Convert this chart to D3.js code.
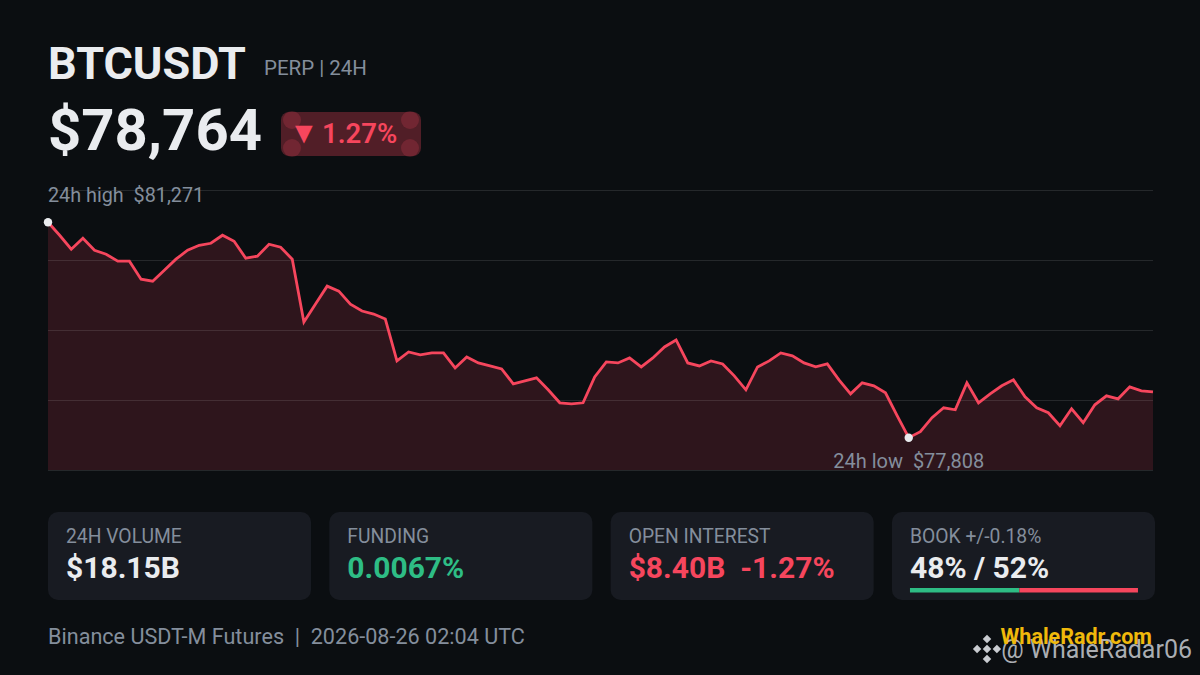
<!DOCTYPE html>
<html>
<head>
<meta charset="utf-8">
<script src="https://cdn.jsdelivr.net/npm/d3@7"></script>
<style>
  html, body { margin: 0; padding: 0; background: #0b0e11; }
  svg { display: block; font-family: Roboto, "Noto Sans", sans-serif; }
</style>
</head>
<body>
<div id="chart"></div>
<script>
// 15-minute closes over the last 24h
const prices = [
  81271, 81063, 80838, 81014, 80822, 80758, 80646, 80646, 80357, 80325,
  80501, 80678, 80822, 80902, 80934, 81063, 80966, 80694, 80726, 80918,
  80870, 80678, 79668, 79956, 80245, 80165, 79956, 79844, 79796, 79716,
  79043, 79187, 79139, 79171, 79171, 78930, 79107, 79010, 78962, 78914,
  78674, 78722, 78770, 78578, 78369, 78353, 78369, 78786, 79027, 79010,
  79091, 78946, 79091, 79267, 79379, 79010, 78962, 79043, 78994, 78802,
  78578, 78946, 79043, 79171, 79123, 79010, 78946, 78994, 78738, 78513,
  78690, 78642, 78530, 78161, 77808, 77904, 78129, 78289, 78257, 78690,
  78369, 78513, 78642, 78738, 78465, 78289, 78209, 78001, 78273, 78049,
  78337, 78482, 78433, 78626, 78562, 78546
];

const symbol = "BTCUSDT";
const subtitle = "PERP | 24H";
const lastPrice = "$78,764";
const changeArrow = "\u25BC";
const changeText = "1.27%";
const highLabel = "24h high  $81,271";
const lowLabel = "24h low  $77,808";

const cardLabels = ["24H VOLUME", "FUNDING", "OPEN INTEREST", "BOOK +/-0.18%"];
const cardValues = ["$18.15B", "0.0067%", "$8.40B  -1.27%", "48% / 52%"];
const cardColors = ["#eaecef", "#2ebd85", "#f6465d", "#eaecef"];
const bookSplit = [48, 52];

const footer = "Binance USDT-M Futures  |  2026-08-26 02:04 UTC";

const W = 1200, H = 675;
const red = "#f6465d", green = "#2ebd85", grey = "#848e9c";

const svg = d3.select("#chart").append("svg")
  .attr("width", W).attr("height", H);

svg.append("rect").attr("width", W).attr("height", H).attr("fill", "#0b0e11");

// header
svg.append("text").attr("x", 48).attr("y", 79)
  .attr("font-size", 45).attr("font-weight", 700).attr("fill", "#eaecef")
  .text(symbol);
svg.append("text").attr("x", 264).attr("y", 75)
  .attr("font-size", 20.5).attr("fill", grey)
  .text(subtitle);
svg.append("text").attr("x", 48).attr("y", 150)
  .attr("font-size", 58).attr("font-weight", 700).attr("fill", "#eaecef")
  .text(lastPrice);

// change badge
const badge = svg.append("g").attr("transform", "translate(281,112)");
const bw = 140, bh = 44;
badge.append("rect").attr("width", bw).attr("height", bh).attr("rx", 8)
  .attr("fill", red).attr("fill-opacity", 0.3);
[[11, 8], [bw - 11, 8], [11, bh - 8], [bw - 11, bh - 8]].forEach(c => {
  badge.append("circle").attr("cx", c[0]).attr("cy", c[1]).attr("r", 9)
    .attr("fill", red).attr("fill-opacity", 0.2);
});
badge.append("text").attr("x", 8).attr("y", 31)
  .attr("font-size", 30).attr("fill", red).text(changeArrow);
badge.append("text").attr("x", 41).attr("y", 31)
  .attr("font-size", 27.5).attr("font-weight", 600)
  .attr("fill", red).text(changeText);

// price chart
const plotTop = 190, plotBottom = 470, plotLeft = 48, plotRight = 1153;
const lo = d3.min(prices), hi = d3.max(prices);
const pad = (hi - lo) * 0.15;

const x = d3.scaleLinear().domain([0, prices.length - 1]).range([plotLeft, plotRight]);
const y = d3.scaleLinear().domain([lo - pad, hi + pad]).range([plotBottom, plotTop]);

const area = d3.area()
  .x((d, i) => x(i)).y0(plotBottom).y1(d => y(d));
const line = d3.line()
  .x((d, i) => x(i)).y(d => y(d));

svg.append("path").datum(prices).attr("d", area)
  .attr("fill", red).attr("fill-opacity", 0.15);

const grid = d3.range(5).map(i => plotTop + i * (plotBottom - plotTop) / 4);
svg.append("g").selectAll("line").data(grid).enter().append("line")
  .attr("x1", plotLeft).attr("x2", plotRight)
  .attr("y1", d => d + 0.5).attr("y2", d => d + 0.5)
  .attr("stroke", "#ffffff").attr("stroke-opacity", 0.11).attr("stroke-width", 1);

svg.append("path").datum(prices).attr("d", line)
  .attr("fill", "none").attr("stroke", red).attr("stroke-width", 2.8)
  .attr("stroke-linejoin", "miter");

const iHi = prices.indexOf(hi), iLo = prices.indexOf(lo);
svg.append("circle").attr("cx", x(iHi)).attr("cy", y(hi)).attr("r", 4.2).attr("fill", "#eaecef");
svg.append("circle").attr("cx", x(iLo)).attr("cy", y(lo)).attr("r", 4.2).attr("fill", "#eaecef");

svg.append("text").attr("x", 48).attr("y", 202)
  .attr("font-size", 19.8).attr("fill", grey).style("white-space", "pre")
  .text(highLabel);
svg.append("text").attr("x", x(iLo)).attr("y", 468)
  .attr("text-anchor", "middle")
  .attr("font-size", 20).attr("fill", grey).style("white-space", "pre")
  .text(lowLabel);

// stat cards
const cardX = d3.scaleBand().domain(d3.range(4)).range([48, 1155]).paddingInner(0.065);
const cards = svg.append("g").selectAll("g").data(cardLabels).enter().append("g")
  .attr("transform", (d, i) => `translate(${cardX(i)},512)`);

cards.append("rect").attr("width", cardX.bandwidth()).attr("height", 88)
  .attr("rx", 10).attr("fill", "#181b22");
cards.append("text").attr("x", 18).attr("y", 31)
  .attr("font-size", 19.3).attr("fill", grey)
  .text(d => d);
cards.append("text").attr("x", 18).attr("y", 66)
  .attr("font-size", 30).attr("font-weight", 700).style("white-space", "pre")
  .attr("fill", (d, i) => cardColors[i])
  .text((d, i) => cardValues[i]);

// book imbalance bar
const bx = cardX(3) + 18, bwid = 228;
const bar = d3.scaleLinear().domain([0, d3.sum(bookSplit)]).range([0, bwid]);
svg.append("rect").attr("x", bx).attr("y", 588).attr("width", bar(bookSplit[0])).attr("height", 4.5)
  .attr("fill", green);
svg.append("rect").attr("x", bx + bar(bookSplit[0])).attr("y", 588).attr("width", bar(bookSplit[1])).attr("height", 4.5)
  .attr("fill", red);

// footer
svg.append("text").attr("x", 48).attr("y", 644)
  .attr("font-size", 21.6).attr("fill", grey).style("white-space", "pre")
  .text(footer);

// watermark
const wm = svg.append("g");
wm.append("text").attr("x", 1192).attr("y", 658).attr("text-anchor", "end")
  .attr("font-size", 25).attr("fill", "#c9ccd1").attr("fill-opacity", 0.85)
  .text("@ WhaleRadar06");
wm.append("text").attr("x", 1152).attr("y", 644).attr("text-anchor", "end")
  .attr("font-size", 21.5).attr("font-weight", 700).attr("fill", "#f0b90b")
  .text("WhaleRadr.com");
const logo = wm.append("g").attr("transform", "translate(987,649) rotate(45)");
[[-7, -7], [7, -7], [-7, 7], [7, 7], [0, 0]].forEach(p => {
  logo.append("rect").attr("x", p[0] - 3).attr("y", p[1] - 3).attr("width", 6).attr("height", 6)
    .attr("fill", "#c9ccd1");
});
</script>
</body>
</html>
